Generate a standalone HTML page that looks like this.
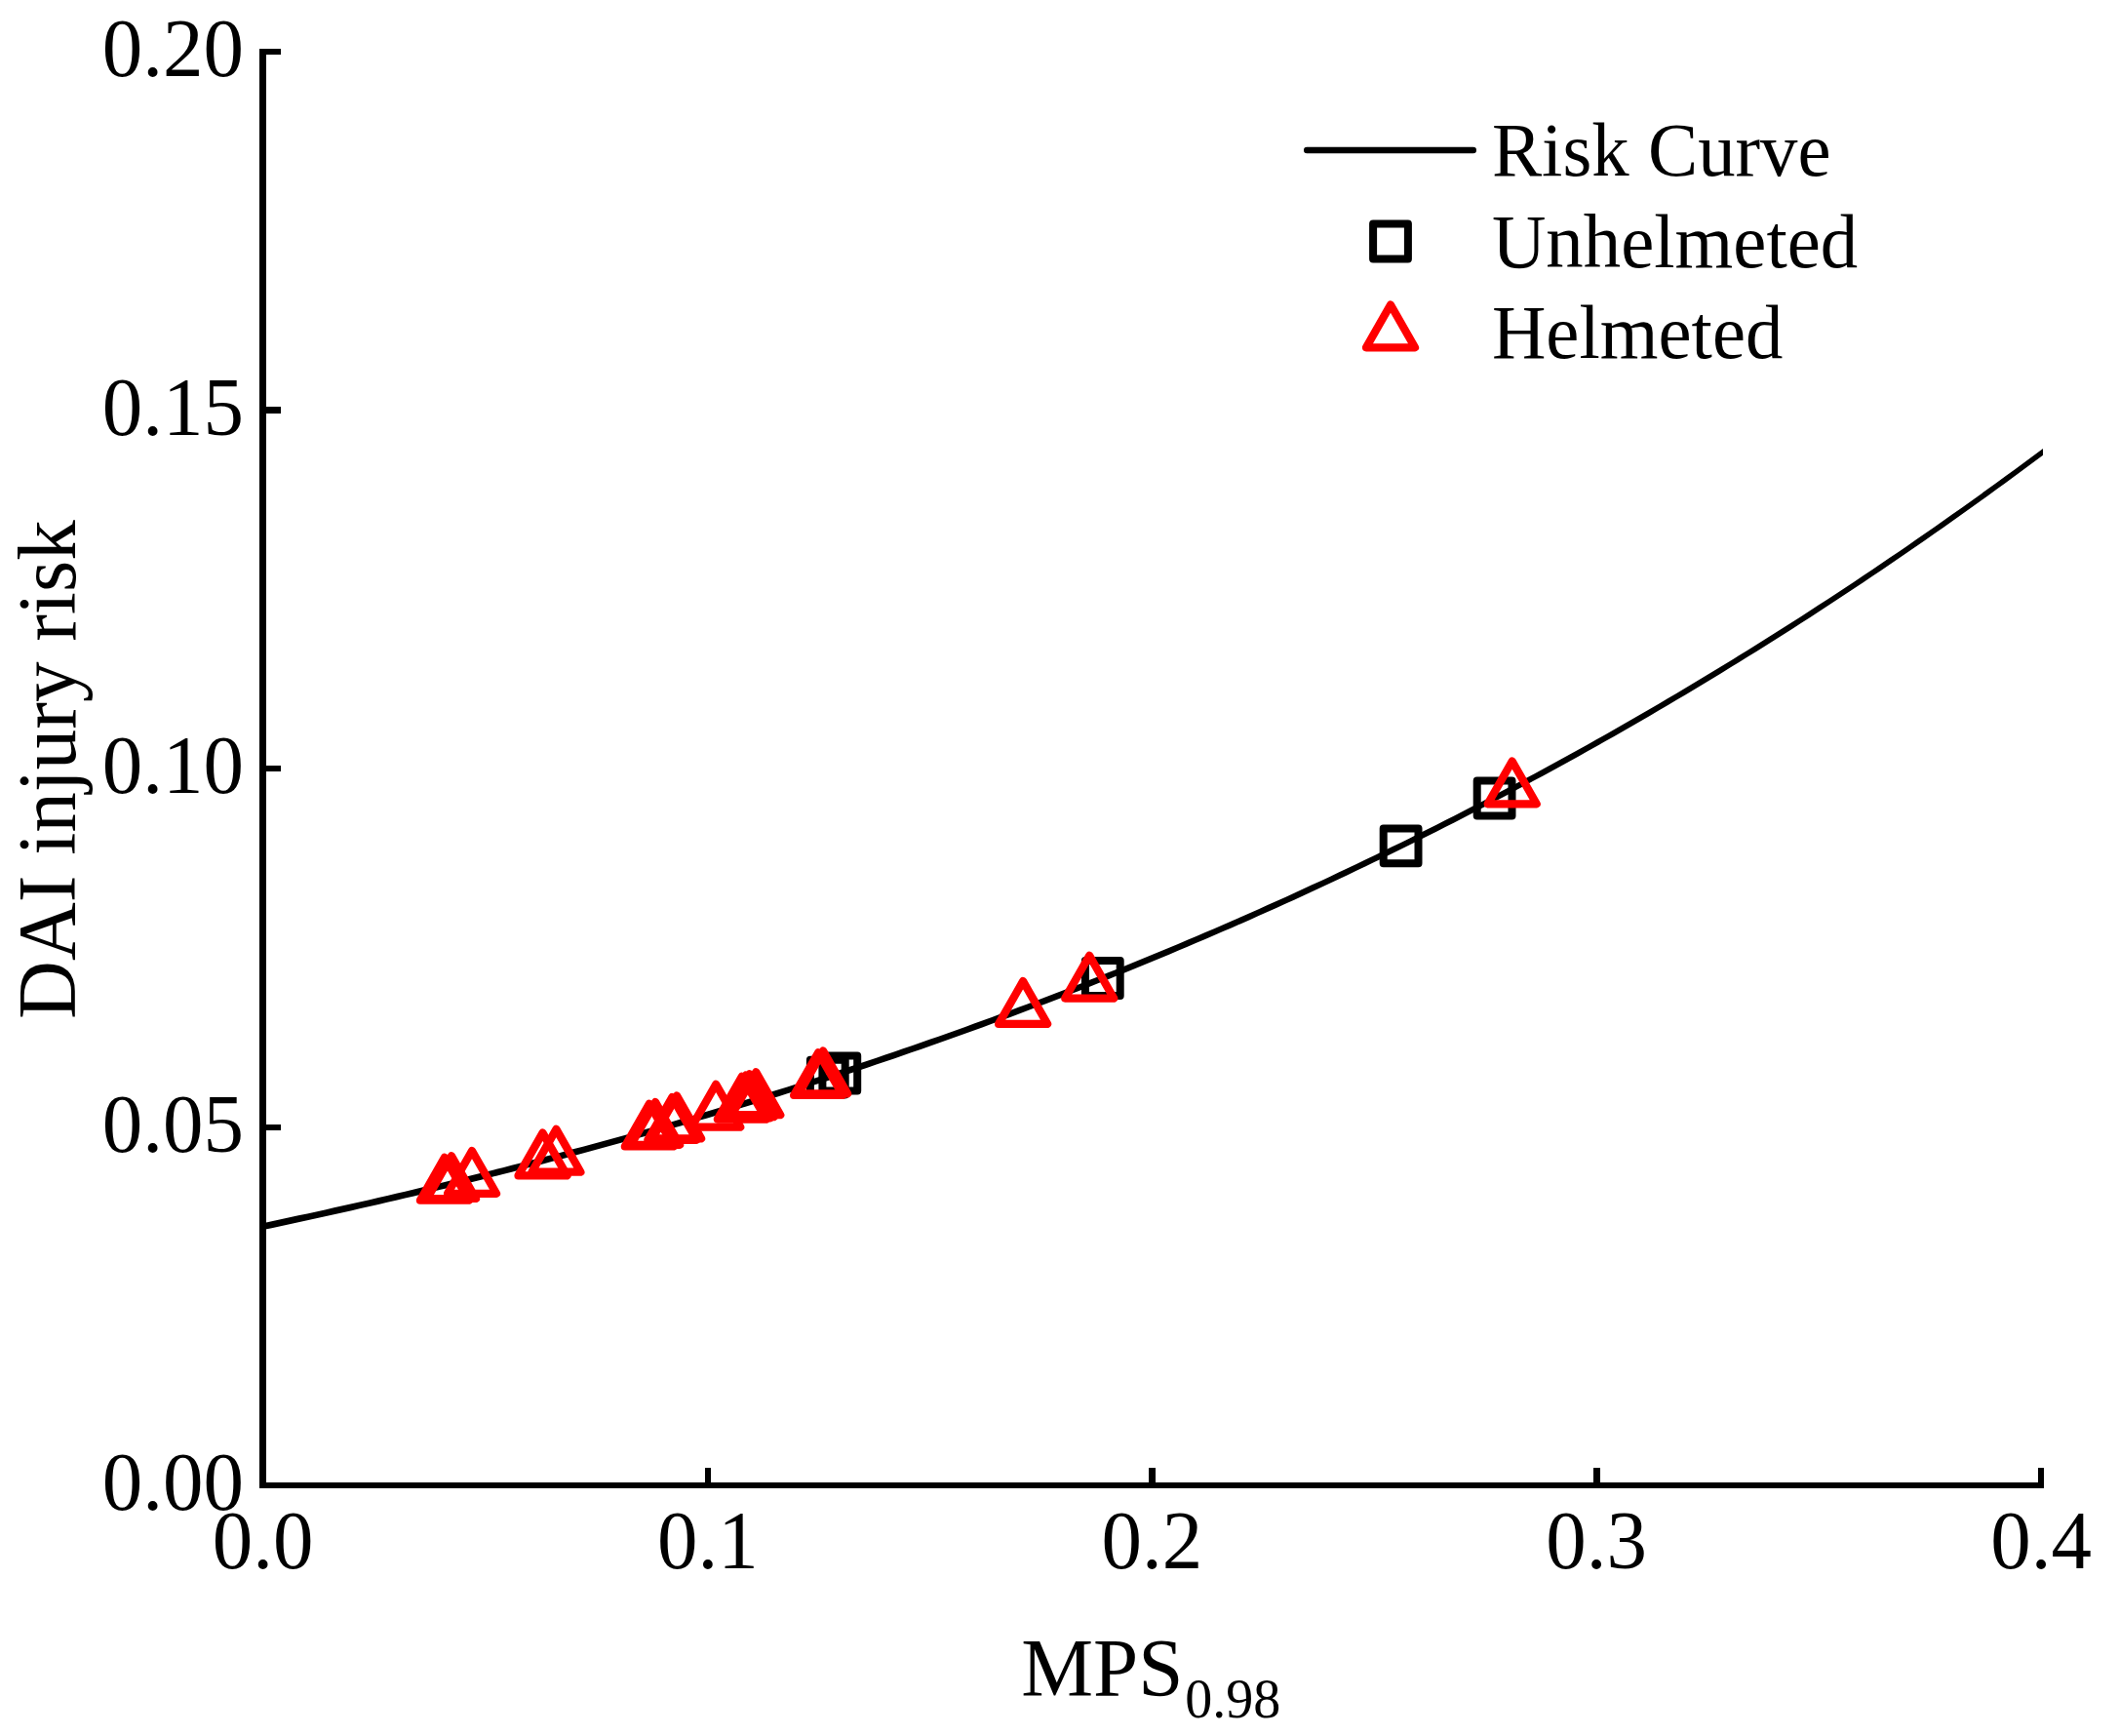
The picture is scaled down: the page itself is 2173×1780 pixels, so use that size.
<!DOCTYPE html>
<html lang="en"><head><meta charset="utf-8"><title>DAI injury risk vs MPS0.98</title>
<style>html,body{margin:0;padding:0;background:#fff;}body{width:2173px;height:1780px;overflow:hidden;}svg{display:block;}text{font-family:"Liberation Serif","Times New Roman",serif;fill:#000;font-kerning:none;font-variant-ligatures:none;}</style>
</head><body>
<svg width="2173" height="1780" viewBox="0 0 2173 1780">
<rect x="0" y="0" width="2173" height="1780" fill="#fff"/>
<defs><clipPath id="plot"><rect x="266" y="50" width="1829" height="1476"/></clipPath></defs>
<path d="M269.50 1254.17 L278.62 1252.24 L287.74 1250.30 L296.85 1248.34 L305.97 1246.37 L315.09 1244.39 L324.21 1242.40 L333.32 1240.39 L342.44 1238.36 L351.56 1236.33 L360.68 1234.27 L369.79 1232.21 L378.91 1230.13 L388.03 1228.03 L397.14 1225.92 L406.26 1223.80 L415.38 1221.66 L424.50 1219.51 L433.62 1217.34 L442.73 1215.15 L451.85 1212.96 L460.97 1210.74 L470.09 1208.51 L479.20 1206.27 L488.32 1204.01 L497.44 1201.73 L506.56 1199.44 L515.67 1197.14 L524.79 1194.81 L533.91 1192.47 L543.02 1190.12 L552.14 1187.75 L561.26 1185.36 L570.38 1182.96 L579.50 1180.54 L588.61 1178.10 L597.73 1175.65 L606.85 1173.18 L615.97 1170.69 L625.08 1168.19 L634.20 1165.67 L643.32 1163.13 L652.43 1160.58 L661.55 1158.00 L670.67 1155.41 L679.79 1152.81 L688.90 1150.18 L698.02 1147.54 L707.14 1144.88 L716.26 1142.20 L725.38 1139.50 L734.49 1136.78 L743.61 1134.05 L752.73 1131.30 L761.85 1128.53 L770.96 1125.74 L780.08 1122.93 L789.20 1120.10 L798.32 1117.26 L807.43 1114.39 L816.55 1111.51 L825.67 1108.61 L834.78 1105.68 L843.90 1102.74 L853.02 1099.78 L862.14 1096.80 L871.25 1093.79 L880.37 1090.77 L889.49 1087.73 L898.61 1084.67 L907.73 1081.59 L916.84 1078.48 L925.96 1075.36 L935.08 1072.22 L944.20 1069.05 L953.31 1065.87 L962.43 1062.66 L971.55 1059.43 L980.67 1056.18 L989.78 1052.91 L998.90 1049.62 L1008.02 1046.30 L1017.14 1042.97 L1026.25 1039.61 L1035.37 1036.23 L1044.49 1032.83 L1053.61 1029.41 L1062.72 1025.96 L1071.84 1022.49 L1080.96 1019.00 L1090.07 1015.49 L1099.19 1011.95 L1108.31 1008.39 L1117.43 1004.81 L1126.55 1001.20 L1135.66 997.57 L1144.78 993.92 L1153.90 990.24 L1163.01 986.54 L1172.13 982.82 L1181.25 979.07 L1190.37 975.30 L1199.49 971.50 L1208.60 967.68 L1217.72 963.84 L1226.84 959.97 L1235.95 956.07 L1245.07 952.15 L1254.19 948.21 L1263.31 944.24 L1272.42 940.25 L1281.54 936.23 L1290.66 932.18 L1299.78 928.11 L1308.89 924.01 L1318.01 919.89 L1327.13 915.74 L1336.25 911.57 L1345.37 907.37 L1354.48 903.14 L1363.60 898.89 L1372.72 894.61 L1381.84 890.30 L1390.95 885.97 L1400.07 881.61 L1409.19 877.22 L1418.30 872.80 L1427.42 868.36 L1436.54 863.89 L1445.66 859.39 L1454.77 854.87 L1463.89 850.31 L1473.01 845.73 L1482.13 841.12 L1491.25 836.48 L1500.36 831.82 L1509.48 827.12 L1518.60 822.40 L1527.72 817.64 L1536.83 812.86 L1545.95 808.05 L1555.07 803.21 L1564.18 798.34 L1573.30 793.44 L1582.42 788.51 L1591.54 783.56 L1600.66 778.57 L1609.77 773.55 L1618.89 768.50 L1628.01 763.42 L1637.12 758.32 L1646.24 753.18 L1655.36 748.01 L1664.48 742.81 L1673.60 737.57 L1682.71 732.31 L1691.83 727.02 L1700.95 721.69 L1710.06 716.34 L1719.18 710.95 L1728.30 705.53 L1737.42 700.08 L1746.53 694.60 L1755.65 689.08 L1764.77 683.53 L1773.89 677.95 L1783.01 672.34 L1792.12 666.70 L1801.24 661.02 L1810.36 655.31 L1819.47 649.57 L1828.59 643.79 L1837.71 637.98 L1846.83 632.14 L1855.95 626.26 L1865.06 620.35 L1874.18 614.41 L1883.30 608.44 L1892.41 602.43 L1901.53 596.38 L1910.65 590.30 L1919.77 584.19 L1928.88 578.04 L1938.00 571.86 L1947.12 565.65 L1956.24 559.40 L1965.36 553.11 L1974.47 546.79 L1983.59 540.44 L1992.71 534.05 L2001.83 527.62 L2010.94 521.16 L2020.06 514.66 L2029.18 508.13 L2038.30 501.56 L2047.41 494.96 L2056.53 488.32 L2065.65 481.65 L2074.76 474.94 L2083.88 468.19 L2093.00 461.41 L2102.12 454.59 L2102.12 461.49 L2093.00 468.31 L2083.88 475.09 L2074.76 481.84 L2065.65 488.55 L2056.53 495.22 L2047.41 501.86 L2038.30 508.46 L2029.18 515.03 L2020.06 521.56 L2010.94 528.06 L2001.83 534.52 L1992.71 540.95 L1983.59 547.34 L1974.47 553.69 L1965.36 560.01 L1956.24 566.30 L1947.12 572.55 L1938.00 578.76 L1928.88 584.94 L1919.77 591.09 L1910.65 597.20 L1901.53 603.28 L1892.41 609.33 L1883.30 615.34 L1874.18 621.31 L1865.06 627.25 L1855.95 633.16 L1846.83 639.04 L1837.71 644.88 L1828.59 650.69 L1819.47 656.47 L1810.36 662.21 L1801.24 667.92 L1792.12 673.60 L1783.01 679.24 L1773.89 684.85 L1764.77 690.43 L1755.65 695.98 L1746.53 701.50 L1737.42 706.98 L1728.30 712.43 L1719.18 717.85 L1710.06 723.24 L1700.95 728.59 L1691.83 733.92 L1682.71 739.21 L1673.60 744.47 L1664.48 749.71 L1655.36 754.91 L1646.24 760.08 L1637.12 765.22 L1628.01 770.32 L1618.89 775.40 L1609.77 780.45 L1600.66 785.47 L1591.54 790.46 L1582.42 795.41 L1573.30 800.34 L1564.18 805.24 L1555.07 810.11 L1545.95 814.95 L1536.83 819.76 L1527.72 824.54 L1518.60 829.30 L1509.48 834.02 L1500.36 838.72 L1491.25 843.38 L1482.13 848.02 L1473.01 852.63 L1463.89 857.21 L1454.77 861.77 L1445.66 866.29 L1436.54 870.79 L1427.42 875.26 L1418.30 879.70 L1409.19 884.12 L1400.07 888.51 L1390.95 892.87 L1381.84 897.20 L1372.72 901.51 L1363.60 905.79 L1354.48 910.04 L1345.37 914.27 L1336.25 918.47 L1327.13 922.64 L1318.01 926.79 L1308.89 930.91 L1299.78 935.01 L1290.66 939.08 L1281.54 943.13 L1272.42 947.15 L1263.31 951.14 L1254.19 955.11 L1245.07 959.05 L1235.95 962.97 L1226.84 966.87 L1217.72 970.74 L1208.60 974.58 L1199.49 978.40 L1190.37 982.20 L1181.25 985.97 L1172.13 989.72 L1163.01 993.44 L1153.90 997.14 L1144.78 1000.82 L1135.66 1004.47 L1126.55 1008.10 L1117.43 1011.71 L1108.31 1015.29 L1099.19 1018.85 L1090.07 1022.39 L1080.96 1025.90 L1071.84 1029.39 L1062.72 1032.86 L1053.61 1036.31 L1044.49 1039.73 L1035.37 1043.13 L1026.25 1046.51 L1017.14 1049.87 L1008.02 1053.20 L998.90 1056.52 L989.78 1059.81 L980.67 1063.08 L971.55 1066.33 L962.43 1069.56 L953.31 1072.77 L944.20 1075.95 L935.08 1079.12 L925.96 1082.26 L916.84 1085.38 L907.73 1088.49 L898.61 1091.57 L889.49 1094.63 L880.37 1097.67 L871.25 1100.69 L862.14 1103.70 L853.02 1106.68 L843.90 1109.64 L834.78 1112.58 L825.67 1115.51 L816.55 1118.41 L807.43 1121.29 L798.32 1124.16 L789.20 1127.00 L780.08 1129.83 L770.96 1132.64 L761.85 1135.43 L752.73 1138.20 L743.61 1140.95 L734.49 1143.68 L725.38 1146.40 L716.26 1149.10 L707.14 1151.78 L698.02 1154.44 L688.90 1157.08 L679.79 1159.71 L670.67 1162.31 L661.55 1164.90 L652.43 1167.48 L643.32 1170.03 L634.20 1172.57 L625.08 1175.09 L615.97 1177.59 L606.85 1180.08 L597.73 1182.55 L588.61 1185.00 L579.50 1187.44 L570.38 1189.86 L561.26 1192.26 L552.14 1194.65 L543.02 1197.02 L533.91 1199.37 L524.79 1201.71 L515.67 1204.04 L506.56 1206.34 L497.44 1208.63 L488.32 1210.91 L479.20 1213.17 L470.09 1215.41 L460.97 1217.64 L451.85 1219.86 L442.73 1222.05 L433.62 1224.24 L424.50 1226.41 L415.38 1228.56 L406.26 1230.70 L397.14 1232.82 L388.03 1234.93 L378.91 1237.03 L369.79 1239.11 L360.68 1241.17 L351.56 1243.23 L342.44 1245.26 L333.32 1247.29 L324.21 1249.30 L315.09 1251.29 L305.97 1253.27 L296.85 1255.24 L287.74 1257.20 L278.62 1259.14 L269.50 1261.07 Z" fill="#000" stroke="none" clip-path="url(#plot)"/>
<g fill="#000" shape-rendering="crispEdges">
<rect x="266" y="50" width="7" height="1476"/>
<rect x="266" y="1520" width="1830" height="6"/>
<rect x="266" y="50" width="22" height="6"/>
<rect x="266" y="417" width="22" height="7"/>
<rect x="266" y="785" width="22" height="6"/>
<rect x="266" y="1153" width="22" height="6"/>
<rect x="723" y="1505" width="6" height="21"/>
<rect x="1178" y="1505" width="7" height="21"/>
<rect x="1634" y="1505" width="7" height="21"/>
<rect x="2090" y="1505" width="6" height="21"/>
</g>
<text transform="translate(250 78.2) scale(1 1.027)" font-size="83" text-anchor="end">0.20</text>
<text transform="translate(250 445.7) scale(1 1.027)" font-size="83" text-anchor="end">0.15</text>
<text transform="translate(250 813.2) scale(1 1.027)" font-size="83" text-anchor="end">0.10</text>
<text transform="translate(250 1180.7) scale(1 1.027)" font-size="83" text-anchor="end">0.05</text>
<text transform="translate(250 1548.2) scale(1 1.027)" font-size="83" text-anchor="end">0.00</text>
<text transform="translate(269.5 1608.2) scale(1 1.027)" font-size="83" text-anchor="middle">0.0</text>
<text transform="translate(725.9 1608.2) scale(1 1.027)" font-size="83" text-anchor="middle">0.1</text>
<text transform="translate(1181.4 1608.2) scale(1 1.027)" font-size="83" text-anchor="middle">0.2</text>
<text transform="translate(1637.2 1608.2) scale(1 1.027)" font-size="83" text-anchor="middle">0.3</text>
<text transform="translate(2093.0 1608.2) scale(1 1.027)" font-size="83" text-anchor="middle">0.4</text>
<text transform="translate(76.6 1045) rotate(-90) scale(1 1.012)" font-size="83">DAI injury risk</text>
<text transform="translate(1047.3 1738.5) scale(1 1.02)" font-size="83">MPS</text>
<text transform="translate(1215.3 1761) scale(1 1.03)" font-size="56">0.98</text>
<rect x="830.9" y="1086.7" width="35.8" height="35.8" fill="none" stroke="#000" stroke-width="8" stroke-linejoin="round"/>
<rect x="843.4" y="1082.6" width="35.8" height="35.8" fill="none" stroke="#000" stroke-width="8" stroke-linejoin="round"/>
<rect x="1112.9" y="985.1" width="35.8" height="35.8" fill="none" stroke="#000" stroke-width="8" stroke-linejoin="round"/>
<rect x="1418.7" y="849.4" width="35.8" height="35.8" fill="none" stroke="#000" stroke-width="8" stroke-linejoin="round"/>
<rect x="1514.7" y="800.6" width="35.8" height="35.8" fill="none" stroke="#000" stroke-width="8" stroke-linejoin="round"/>
<path d="M455.9 1186.9 L480.9 1230.7 L430.9 1230.7 Z" fill="none" stroke="#f00" stroke-width="8.2" stroke-linejoin="round"/>
<path d="M463.0 1185.2 L488.0 1229.0 L438.0 1229.0 Z" fill="none" stroke="#f00" stroke-width="8.2" stroke-linejoin="round"/>
<path d="M484.0 1180.0 L509.0 1223.8 L459.0 1223.8 Z" fill="none" stroke="#f00" stroke-width="8.2" stroke-linejoin="round"/>
<path d="M556.5 1161.6 L581.5 1205.4 L531.5 1205.4 Z" fill="none" stroke="#f00" stroke-width="8.2" stroke-linejoin="round"/>
<path d="M570.4 1157.9 L595.4 1201.7 L545.4 1201.7 Z" fill="none" stroke="#f00" stroke-width="8.2" stroke-linejoin="round"/>
<path d="M665.8 1131.7 L690.8 1175.5 L640.8 1175.5 Z" fill="none" stroke="#f00" stroke-width="8.2" stroke-linejoin="round"/>
<path d="M672.1 1130.0 L697.1 1173.8 L647.1 1173.8 Z" fill="none" stroke="#f00" stroke-width="8.2" stroke-linejoin="round"/>
<path d="M689.3 1125.0 L714.3 1168.8 L664.3 1168.8 Z" fill="none" stroke="#f00" stroke-width="8.2" stroke-linejoin="round"/>
<path d="M694.1 1123.6 L719.1 1167.4 L669.1 1167.4 Z" fill="none" stroke="#f00" stroke-width="8.2" stroke-linejoin="round"/>
<path d="M734.2 1111.8 L759.2 1155.6 L709.2 1155.6 Z" fill="none" stroke="#f00" stroke-width="8.2" stroke-linejoin="round"/>
<path d="M760.8 1103.8 L785.8 1147.6 L735.8 1147.6 Z" fill="none" stroke="#f00" stroke-width="8.2" stroke-linejoin="round"/>
<path d="M765.0 1102.5 L790.0 1146.3 L740.0 1146.3 Z" fill="none" stroke="#f00" stroke-width="8.2" stroke-linejoin="round"/>
<path d="M768.7 1101.4 L793.7 1145.2 L743.7 1145.2 Z" fill="none" stroke="#f00" stroke-width="8.2" stroke-linejoin="round"/>
<path d="M775.3 1099.4 L800.3 1143.2 L750.3 1143.2 Z" fill="none" stroke="#f00" stroke-width="8.2" stroke-linejoin="round"/>
<path d="M839.1 1079.2 L864.1 1123.0 L814.1 1123.0 Z" fill="none" stroke="#f00" stroke-width="8.2" stroke-linejoin="round"/>
<path d="M844.1 1077.6 L869.1 1121.4 L819.1 1121.4 Z" fill="none" stroke="#f00" stroke-width="8.2" stroke-linejoin="round"/>
<path d="M1049.1 1006.1 L1074.1 1049.9 L1024.1 1049.9 Z" fill="none" stroke="#f00" stroke-width="8.2" stroke-linejoin="round"/>
<path d="M1117.2 979.8 L1142.2 1023.6 L1092.2 1023.6 Z" fill="none" stroke="#f00" stroke-width="8.2" stroke-linejoin="round"/>
<path d="M1550.7 780.5 L1575.7 824.3 L1525.7 824.3 Z" fill="none" stroke="#f00" stroke-width="8.2" stroke-linejoin="round"/>
<line x1="1340.25" y1="154" x2="1510.75" y2="154" stroke="#000" stroke-width="6.5" stroke-linecap="round"/>
<rect x="1408.1" y="229.6" width="35.8" height="35.8" fill="none" stroke="#000" stroke-width="8" stroke-linejoin="round"/>
<path d="M1426.0 312.5 L1451.0 356.3 L1401.0 356.3 Z" fill="none" stroke="#f00" stroke-width="8.2" stroke-linejoin="round"/>
<text transform="translate(1529.9 180.0) scale(1 1.005)" font-size="76.8">Risk Curve</text>
<text transform="translate(1529.9 273.5) scale(1 1.005)" font-size="76.8">Unhelmeted</text>
<text transform="translate(1529.9 367.2) scale(1 1.005)" font-size="76.8">Helmeted</text>
</svg></body></html>
